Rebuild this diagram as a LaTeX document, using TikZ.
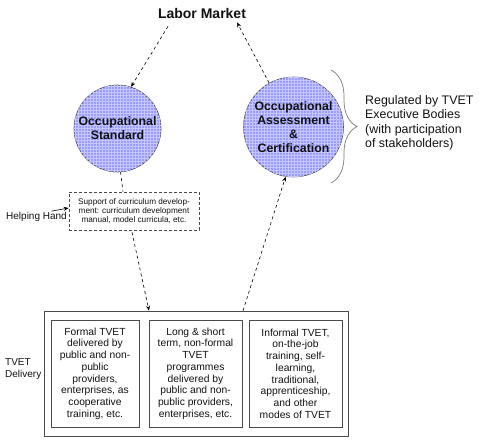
\documentclass[tikz,border=0pt]{standalone}
\usepackage{fontspec}
\setmainfont{Liberation Sans}
\usetikzlibrary{positioning,arrows.meta,decorations.pathreplacing,patterns}
\definecolor{ink}{HTML}{111111}
\definecolor{edge}{HTML}{4A4A4A}
\definecolor{mute}{HTML}{7A7A7A}
\definecolor{circ}{HTML}{9C9CFF}
\definecolor{circlt}{HTML}{C6C6FF}

\begin{document}
\begin{tikzpicture}[x=1pt,y=-1pt,every node/.style={text=ink,inner sep=0pt},
  circnode/.style={circle,draw=edge,line width=0.6pt,fill=circ,
    postaction={pattern=grid,pattern color=circlt},align=center,
    font=\fontsize{12.3}{14}\selectfont\bfseries},
  link/.style={dashed,line width=0.6pt,-{Stealth[length=5pt,width=4pt]}},
  modebox/.style={draw=edge,line width=0.6pt,minimum height=107pt,align=center,
    font=\fontsize{10.3}{11.7}\selectfont}]
  \useasboundingbox (0,0) rectangle (479,443);
  \node[font=\fontsize{14}{16}\selectfont\bfseries] (lab) at (202,14) {Labor Market};
  \node[circnode,minimum size=87pt] (std) at (117.5,128.5) {Occupational\\Standard};
  \node[circnode,minimum size=100pt] (acc) at (293.5,127) {Occupational\\Assessment\\\&\\Certification};
  \draw[decorate,decoration={brace,amplitude=26pt},mute,line width=0.7pt] (331,70) -- (331,183);
  \node[anchor=west,align=left,font=\fontsize{12.4}{14.5}\selectfont] (reg) at (365,123)
    {Regulated by TVET\\Executive Bodies\\(with participation\\of stakeholders)};
  \node[draw=edge,densely dashed,line width=0.6pt,minimum width=130pt,minimum height=38pt,
    align=center,font=\fontsize{8.2}{9.2}\selectfont] (sup) at (134,211)
    {Support of curriculum develop-\\ment: curriculum development\\manual, model curricula, etc.};
  \node[font=\fontsize{10}{12}\selectfont] (hh) at (36.5,217) {Helping Hand};
  \node[draw=edge,line width=0.6pt,minimum width=304pt,minimum height=125pt] (deliv) at (196,373.5) {};
  \node[modebox,minimum width=88pt] (formal) at (95,373.5)
    {Formal TVET\\delivered by\\public and non-\\public\\providers,\\enterprises, as\\cooperative\\training, etc.};
  \node[modebox,minimum width=93pt] (nonformal) at (195.5,373.5)
    {Long \& short\\term, non-formal\\TVET\\programmes\\delivered by\\public and non-\\public providers,\\enterprises, etc.};
  \node[modebox,minimum width=93pt] (informal) at (295.5,373.5)
    {Informal TVET,\\on-the-job\\training, self-\\learning,\\traditional,\\apprenticeship,\\and other\\modes of TVET};
  \node[anchor=west,align=left,font=\fontsize{10}{12}\selectfont] (td) at (5,369) {TVET\\Delivery};
  \draw[link] ([xshift=-34pt,yshift=-7pt]lab.south) -- (std.72);
  \draw[link] (acc.119) -- ([xshift=35pt,yshift=-3pt]lab.south);
  \draw[dashed,line width=0.6pt] (std.-86) -- ([xshift=-11pt]sup.north);
  \draw[line width=0.6pt,-{Stealth[length=5pt,width=4pt]}] ([xshift=15pt,yshift=1pt]hh.north) -- ([yshift=3pt]sup.west);
  \draw[link] ([xshift=-2pt,yshift=-2pt]sup.south) -- ([xshift=-47pt]deliv.north);
  \draw[link] ([xshift=47pt]deliv.north) -- (acc.-99);
\end{tikzpicture}
\end{document}
